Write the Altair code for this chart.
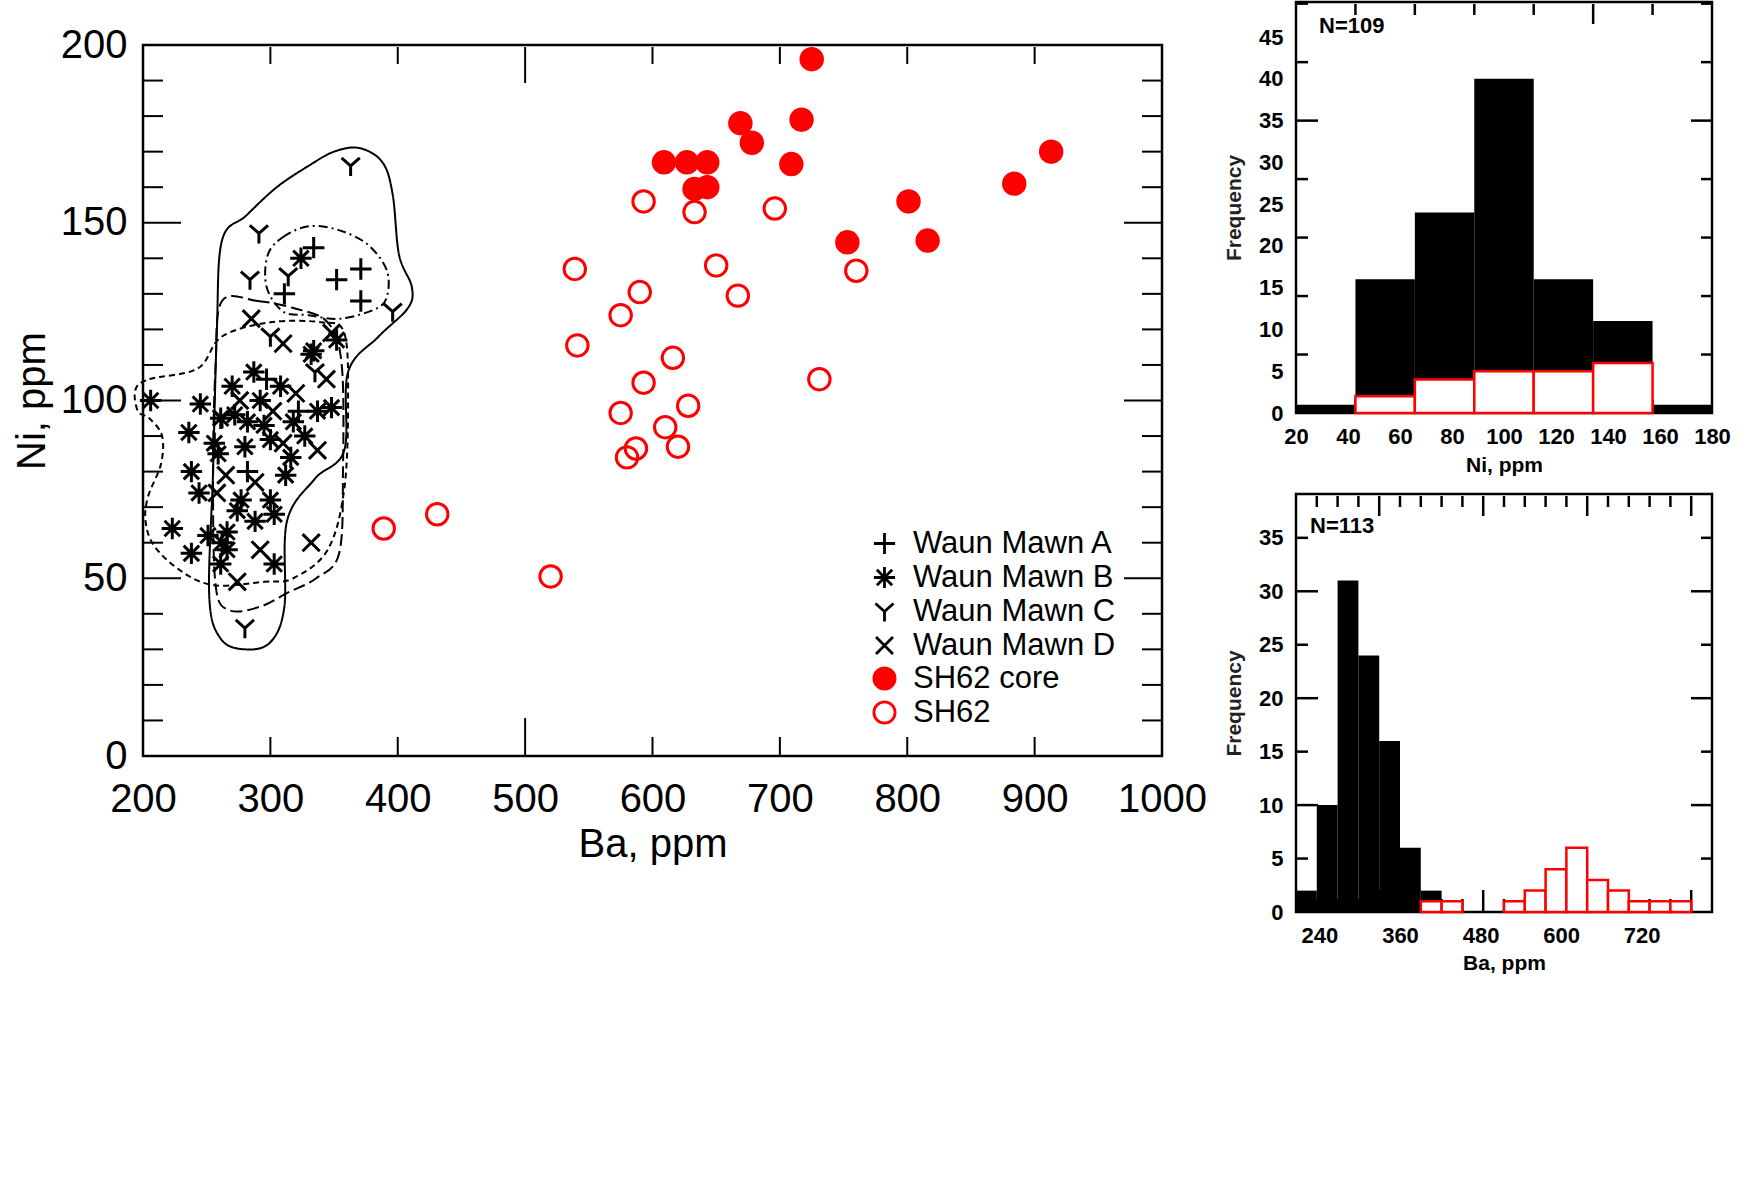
import altair as alt
import pandas as pd

FONT = "Liberation Sans"

# ---------------- scatter data (Ba, Ni in ppm) ----------------
groups = ["Waun Mawn A", "Waun Mawn B", "Waun Mawn C", "Waun Mawn D", "SH62 core", "SH62"]

a_ba = [334, 352, 371, 371, 311, 282, 322, 297]
a_ni = [143, 134, 137, 128, 130, 80, 97, 106]

b_ba = [206, 245, 236, 238, 261, 287, 282, 300, 337, 332, 259, 316, 348, 277, 300, 223, 238, 251, 266, 274,
        303, 303, 261, 266, 352, 324, 334, 270, 292, 308, 318, 280, 295, 327, 256, 288, 244, 312, 272, 262]
b_ni = [100, 99, 91, 80, 95, 108, 94, 89, 97, 113, 85, 84, 98, 72, 72, 64, 57, 62, 58, 69,
        68, 54, 54, 63, 117, 140, 114, 104, 100, 104, 94, 87, 93, 90, 88, 66, 74, 79, 96, 60]

c_ba = [363, 291, 284, 314, 396, 280, 335, 300, 262]
c_ni = [166, 147, 134, 135, 125, 36, 108, 118, 95]

d_ba = [285, 310, 348, 332, 274, 265, 337, 302, 288, 320, 276, 310, 258, 292, 344]
d_ni = [123, 116, 119, 60, 49, 79, 86, 97, 77, 102, 100, 88, 74, 58, 106]

core_ba = [725, 669, 678, 717, 609, 627, 643, 633, 643, 709, 801, 753, 816, 884, 913]
core_ni = [196, 178, 172.5, 179, 167, 167, 167, 159.5, 160, 166.5, 156, 144.5, 145, 161, 170]

sh_ba = [593, 633, 696, 539, 650, 760, 590, 667, 575, 541, 616, 593, 731, 628, 575, 610, 620, 587, 580, 389, 431, 520]
sh_ni = [156, 153, 154, 137, 138, 136.5, 130.5, 129.5, 124, 115.5, 112, 105, 106, 98.5, 96.5, 92.5, 87, 86.5, 84, 64, 68, 50.5]

# ---------------- field outlines (Ba, Ni) ----------------
ol_a_ba = [298, 310, 330, 353, 376, 391, 392, 384, 355, 330, 310, 297]
ol_a_ni = [141, 146, 149, 148, 144, 137, 130, 126, 123, 124, 125, 132]

ol_b_ba = [194, 205, 243, 262, 300, 340, 358, 361, 358, 345, 318, 295, 256, 230, 209, 202, 204, 214, 215, 205, 196]
ol_b_ni = [103, 106, 109, 118, 122, 122, 119, 100, 75, 58, 50, 49, 48, 52, 59, 66, 73, 82, 90, 95, 97]

ol_c_ba = [280, 300, 311, 313, 335, 358, 361, 385, 408, 411, 401, 396, 388, 370, 350, 330, 305, 281, 262, 258, 255, 252, 261]
ol_c_ni = [30, 32, 42, 66, 78, 86, 108, 118, 126, 132, 141, 158, 167, 171, 170, 166, 160, 152, 145, 120, 80, 45, 33]

ol_d_ba = [262, 290, 318, 345, 356, 357, 354, 336, 314, 292, 268, 257, 255, 257]
ol_d_ni = [128, 128, 126, 122, 110, 80, 57, 50, 46, 42, 41, 48, 80, 110]

# ---------------- histogram data ----------------
ni_edges = [20, 42.86, 65.71, 88.57, 111.43, 134.29, 157.14, 180]
ni_all = [1, 16, 24, 40, 16, 11, 1]
ni_sh62 = [0, 2, 4, 5, 5, 6, 0]

ba_edges = [205, 236, 267, 298, 329, 360, 391, 422, 453, 484, 515, 546, 577, 608, 639, 670, 701, 732, 763, 794, 825]
ba_all = [2, 10, 31, 24, 16, 6, 2, 0, 0, 0, 0, 0, 0, 0, 0, 0, 0, 0, 0, 0]
ba_sh62 = [0, 0, 0, 0, 0, 0, 1, 1, 0, 0, 1, 2, 4, 6, 3, 2, 1, 1, 1, 0]

# tick values
main_x_labels = [200, 300, 400, 500, 600, 700, 800, 900, 1000]
main_x_ticks_short = [300, 400, 600, 700, 800, 900]
main_x_ticks_long = [500]
main_y_labels = [0, 50, 100, 150, 200]
main_y_ticks_short = [10, 20, 30, 40, 60, 70, 80, 90, 110, 120, 130, 140, 160, 170, 180, 190]
main_y_ticks_long = [50, 100, 150]

ni_x_labels = [20, 40, 60, 80, 100, 120, 140, 160, 180]
ni_y_labels = [0, 5, 10, 15, 20, 25, 30, 35, 40, 45]
ni_y_ticks_short = [7, 14, 21, 28, 42, 49]
ni_y_ticks_long = [35]
ni_x_ticks_short = [42.86, 65.71, 88.57, 111.43, 157.14]
ni_x_ticks_long = [134.29]

ba_x_labels = [240, 360, 480, 600, 720]
ba_y_labels = [0, 5, 10, 15, 20, 25, 30, 35]
ba_y_ticks_short = [5, 15, 25, 35]
ba_y_ticks_long = [10, 20, 30]
ba_x_ticks_short = [236, 267, 298, 360, 391, 422, 453, 515, 546, 577, 608, 670, 701, 732, 763]
ba_x_ticks_long = [329, 484, 639, 794]

# ---------------- build tables ----------------
rows = []
for g, bx, ny in [(groups[0], a_ba, a_ni), (groups[1], b_ba, b_ni), (groups[2], c_ba, c_ni),
                  (groups[3], d_ba, d_ni), (groups[4], core_ba, core_ni), (groups[5], sh_ba, sh_ni)]:
    for b, n in zip(bx, ny):
        rows.append({"Ba": b, "Ni": n, "group": g})
df_pts = pd.DataFrame(rows)

W, H = 1019, 711
xs = alt.Scale(domain=[200, 1000], nice=False, zero=False)
ys = alt.Scale(domain=[0, 200], nice=False, zero=False)

x_axis = alt.Axis(values=main_x_labels, title="Ba, ppm", ticks=False, domain=False, grid=False,
                  labelFontSize=40, titleFontSize=40, labelFont=FONT, titleFont=FONT,
                  labelColor="black", titleColor="black", titleFontWeight="normal",
                  labelPadding=23, titlePadding=5, labelFlush=False, labelOverlap=False, format="d")
y_axis = alt.Axis(values=main_y_labels, title="Ni, ppm", ticks=False, domain=False, grid=False,
                  labelFontSize=40, titleFontSize=40, labelFont=FONT, titleFont=FONT,
                  labelColor="black", titleColor="black", titleFontWeight="normal",
                  labelPadding=16, titlePadding=8, labelFlush=False, labelOverlap=False, format="d")

PLUS = "M-1,0L1,0M0,-1L0,1"
AST = "M-1,0L1,0M0,-1L0,1M-0.72,-0.72L0.72,0.72M-0.72,0.72L0.72,-0.72"
YSH = "M0,0.95L0,0M0,0L-0.85,-0.75M0,0L0.85,-0.75"
XSH = "M-0.8,-0.8L0.8,0.8M-0.8,0.8L0.8,-0.8"

leg = alt.Legend(title=None, orient="none", legendX=726, legendY=526, padding=0,
                 labelFont=FONT, labelFontSize=31, labelColor="black", labelLimit=400,
                 symbolSize=450, symbolStrokeWidth=2.8, labelOffset=13, rowPadding=1)

shape_sc = alt.Scale(domain=groups, range=[PLUS, AST, YSH, XSH, "circle", "circle"])
stroke_sc = alt.Scale(domain=groups, range=["black", "black", "black", "black", "red", "red"])
fill_sc = alt.Scale(domain=groups, range=["transparent", "transparent", "transparent", "transparent", "red", "transparent"])

points = alt.Chart(df_pts).mark_point(size=460, strokeWidth=3, opacity=1).encode(
    x=alt.X("Ba:Q", scale=xs, axis=x_axis),
    y=alt.Y("Ni:Q", scale=ys, axis=y_axis),
    shape=alt.Shape("group:N", scale=shape_sc, legend=leg),
    stroke=alt.Stroke("group:N", scale=stroke_sc, legend=leg),
    fill=alt.Fill("group:N", scale=fill_sc, legend=leg),
)


def outline(bx, ny, dash):
    df = pd.DataFrame({"Ba": bx, "Ni": ny, "i": list(range(len(bx)))})
    return alt.Chart(df).mark_line(color="black", strokeWidth=2, strokeDash=dash,
                                   interpolate="cardinal-closed", clip=False).encode(
        x=alt.X("Ba:Q", scale=xs, axis=x_axis),
        y=alt.Y("Ni:Q", scale=ys, axis=y_axis),
        order=alt.Order("i:Q"),
    )


def yticks(vals, fld, sc, axis, x0, x1, sw=2):
    return alt.Chart(pd.DataFrame({fld: vals})).mark_rule(color="black", strokeWidth=sw).encode(
        y=alt.Y(f"{fld}:Q", scale=sc, axis=axis), x=alt.value(x0), x2=alt.value(x1))


def xticks(vals, fld, sc, axis, y0, y1, sw=2):
    return alt.Chart(pd.DataFrame({fld: vals})).mark_rule(color="black", strokeWidth=sw).encode(
        x=alt.X(f"{fld}:Q", scale=sc, axis=axis), y=alt.value(y0), y2=alt.value(y1))


main = alt.layer(
    outline(ol_c_ba, ol_c_ni, [1, 0]),
    outline(ol_a_ba, ol_a_ni, [9, 4, 2, 4]),
    outline(ol_b_ba, ol_b_ni, [6, 4]),
    outline(ol_d_ba, ol_d_ni, [12, 5]),
    yticks(main_y_ticks_short, "Ni", ys, y_axis, 0, 20),
    yticks(main_y_ticks_long, "Ni", ys, y_axis, 0, 38),
    yticks(main_y_ticks_short, "Ni", ys, y_axis, W - 20, W),
    yticks(main_y_ticks_long, "Ni", ys, y_axis, W - 38, W),
    xticks(main_x_ticks_short, "Ba", xs, x_axis, H - 19, H),
    xticks(main_x_ticks_long, "Ba", xs, x_axis, H - 38, H),
    xticks(main_x_ticks_short, "Ba", xs, x_axis, 2, 19),
    xticks(main_x_ticks_long, "Ba", xs, x_axis, 2, 38),
    points,
).properties(width=W, height=H)

spacer = alt.Chart(pd.DataFrame({"a": [0]})).mark_point(opacity=0, size=1).encode(
    x=alt.value(2), y=alt.value(2)
).properties(width=W, height=4, view=alt.ViewBackground(stroke="transparent"))


# ---------------- histograms ----------------
def hist(edges, all_counts, red_counts, w, h, xdom, ydom, xlabels, ylabels, xtitle,
         yshort, ylong, xshort, xlong, note, note_x, note_y, lp_x, tp_x):
    xsc = alt.Scale(domain=xdom, nice=False, zero=False)
    ysc = alt.Scale(domain=ydom, nice=False, zero=False)
    ax = alt.Axis(values=xlabels, title=xtitle, ticks=False, domain=False, grid=False,
                  labelFontSize=22, titleFontSize=21, labelFont=FONT, titleFont=FONT,
                  labelFontWeight="bold", titleFontWeight="bold", labelColor="black", titleColor="black",
                  labelPadding=lp_x, titlePadding=tp_x, labelFlush=False, labelOverlap=False, format="d")
    ay = alt.Axis(values=ylabels, title="Frequency", ticks=False, domain=False, grid=False,
                  labelFontSize=22, titleFontSize=21, labelFont=FONT, titleFont=FONT,
                  labelFontWeight="bold", titleFontWeight="bold", labelColor="black", titleColor="#222222",
                  labelPadding=13, titlePadding=14, labelFlush=False, labelOverlap=False, format="d")
    df_all = pd.DataFrame({"lo": edges[:-1], "hi": edges[1:], "n": all_counts})
    df_all = df_all[df_all["n"] > 0]
    df_red = pd.DataFrame({"lo": edges[:-1], "hi": edges[1:], "n": red_counts})
    df_red = df_red[df_red["n"] > 0]
    black = alt.Chart(df_all).mark_rect(color="black").encode(
        x=alt.X("lo:Q", scale=xsc, axis=ax), x2="hi:Q",
        y=alt.Y("n:Q", scale=ysc, axis=ay), y2=alt.datum(0))
    red = alt.Chart(df_red).mark_rect(fill="white", stroke="red", strokeWidth=2.5).encode(
        x=alt.X("lo:Q", scale=xsc, axis=ax), x2="hi:Q",
        y=alt.Y("n:Q", scale=ysc, axis=ay), y2=alt.datum(0))
    txt = alt.Chart(pd.DataFrame({"t": [note]})).mark_text(
        align="left", baseline="middle", font=FONT, fontSize=22, fontWeight="bold", color="black"
    ).encode(text="t:N", x=alt.value(note_x), y=alt.value(note_y))
    return alt.layer(
        yticks(yshort, "n", ysc, ay, 0, 12, 2.5),
        yticks(ylong, "n", ysc, ay, 0, 22, 2.5),
        yticks(yshort, "n", ysc, ay, w - 11, w, 2.5),
        yticks(ylong, "n", ysc, ay, w - 21, w, 2.5),
        xticks(xshort, "lo", xsc, ax, 2, 13, 2.5),
        xticks(xlong, "lo", xsc, ax, 2, 22, 2.5),
        xticks(xshort, "lo", xsc, ax, h - 13, h, 2.5),
        xticks(xlong, "lo", xsc, ax, h - 22, h, 2.5),
        black, red, txt,
    ).properties(width=w, height=h)


ni_hist = hist(ni_edges, ni_all, ni_sh62, 416, 411, [20, 180], [0, 49.2], ni_x_labels, ni_y_labels,
               "Ni, ppm", ni_y_ticks_short, ni_y_ticks_long, ni_x_ticks_short, ni_x_ticks_long,
               "N=109", 23, 24, 13, 7)
ba_hist = hist(ba_edges, ba_all, ba_sh62, 416, 418, [205, 825], [0, 39.1], ba_x_labels, ba_y_labels,
               "Ba, ppm", ba_y_ticks_short, ba_y_ticks_long, ba_x_ticks_short, ba_x_ticks_long,
               "N=113", 14, 32, 13, 6)

left = alt.vconcat(spacer, main, spacing=39, bounds="flush")
right = alt.vconcat(ni_hist, ba_hist, spacing=81, bounds="flush")

chart = alt.hconcat(left, right, spacing=14).properties(
    padding={"left": 11, "top": 0, "right": 0, "bottom": 0},
    background="white",
).configure(font=FONT).configure_view(stroke="black", strokeWidth=2.5)

chart.save("out.html", embed_options={"renderer": "svg", "actions": False})
